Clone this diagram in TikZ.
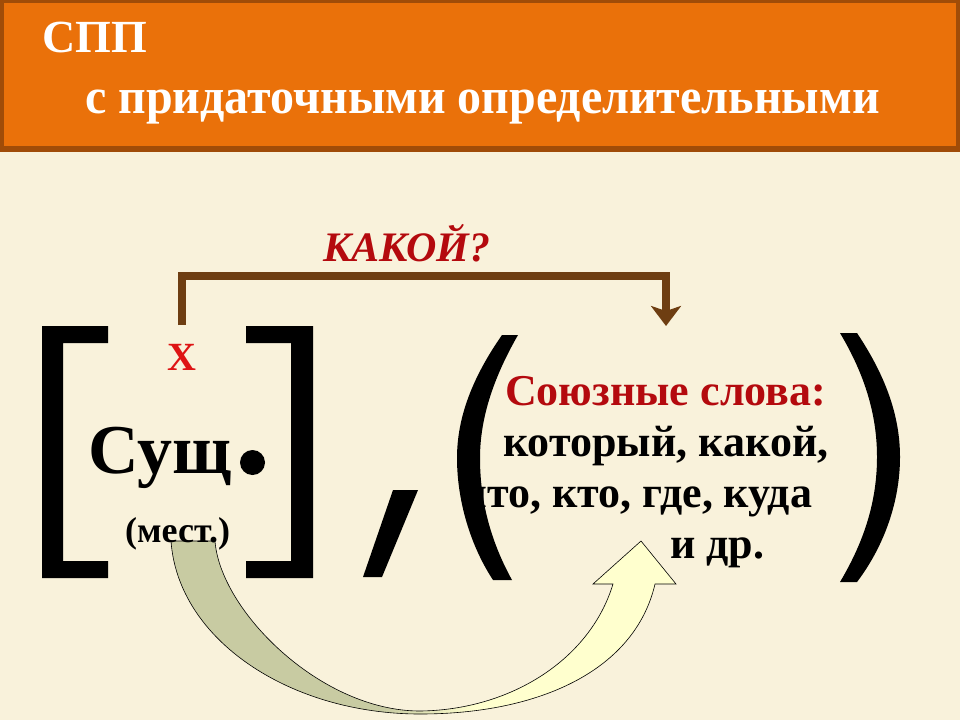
\documentclass[tikz,border=0pt]{standalone}
\usepackage{fontspec}
\setmainfont{Liberation Serif}
\usetikzlibrary{arrows.meta}
\definecolor{bgbeige}{RGB}{249,242,219}
\definecolor{hdorange}{RGB}{234,113,10}
\definecolor{hdbrown}{RGB}{160,76,8}
\definecolor{brarrow}{RGB}{110,62,18}
\definecolor{darkred}{RGB}{180,10,14}
\definecolor{brightred}{RGB}{222,20,20}
\definecolor{arrgreen}{RGB}{200,203,162}
\definecolor{arryellow}{RGB}{255,255,206}
\pgfdeclarehorizontalshading{curvshade}{100bp}{color(0bp)=(arrgreen); color(46bp)=(arrgreen); color(55bp)=(arryellow); color(100bp)=(arryellow)}
\tikzset{
  hdtext/.style={text=white, inner sep=0pt, font=\bfseries},
  bodytext/.style={inner sep=0pt, anchor=base west, font=\bfseries\fontsize{44}{48}\selectfont},
  glyph/.style={fill=black, draw=none},
  brackline/.style={draw=brarrow, line width=8pt, line join=miter,
     -{Stealth[width=30pt,length=20pt,inset=5pt]}},
}
\begin{document}
\begin{tikzpicture}[x=1pt,y=-1pt]
\useasboundingbox (0,0) rectangle (960,720);
\fill[bgbeige] (0,0) rectangle (960,720);
% header
\fill[hdbrown] (0,0) rectangle (960,152);
\fill[hdorange] (4,3) rectangle (956,146);
\node[hdtext, anchor=base west, font=\bfseries\fontsize{46}{50}\selectfont] (spp) at (42,52) {СПП};
\node[hdtext, anchor=base west, font=\bfseries\fontsize{50}{54}\selectfont] (sub) at (85,113) {\scalebox{0.96}[1]{с придаточными определительными}};
% curved arrow
\path[shading=curvshade, draw=black, line width=0.6pt]
  (171,541) .. controls (178,640) and (290,714) .. (420,714)
  .. controls (540,714) and (635,670) .. (655,584)
  -- (676,584) -- (641,541) -- (593,584) -- (613,584)
  .. controls (590,660) and (510,710) .. (420,711)
  .. controls (320,711) and (220,610) .. (215,541) -- cycle;
% square brackets
\fill[glyph] (42,326) -- (108,326) -- (108,343) -- (63,343) -- (63,561) -- (108,561) -- (108,578) -- (42,578) -- cycle;
\fill[glyph] (246,326) -- (313,326) -- (313,578) -- (246,578) -- (246,561) -- (291,561) -- (291,343) -- (246,343) -- cycle;
% comma
\fill[glyph] (393,490) -- (418,490) -- (382,577) -- (363,577) -- cycle;
% main clause
\node[inner sep=0pt, anchor=base, text=brightred, font=\bfseries\fontsize{40}{44}\selectfont] (x) at (182,370) {Х};
\node[bodytext, font=\bfseries\fontsize{70}{74}\selectfont] (sush) at (88,473) {Сущ};
\fill (252.5,462.5) circle (12.5);
\node[bodytext, font=\bfseries\fontsize{36}{40}\selectfont] (mest) at (125,542) {(мест.)};
% subordinate text
\node[bodytext, text=darkred] (sw) at (505,405) {Союзные слова:};
\node[bodytext] (l1) at (503,456) {который, какой,};
\node[bodytext] (l2) at (462,507) {что, кто, где, куда};
\node[bodytext] (l3) at (670,558) {и др.};
% parentheses
\fill[glyph] (502,335) .. controls (472,378) and (457,418) .. (457,458)
  .. controls (457,500) and (470,545) .. (493,580) -- (512,580)
  .. controls (490,540) and (480,500) .. (480,458)
  .. controls (480,416) and (495,375) .. (518,335) -- cycle;
\fill[glyph] (857,333) .. controls (885,375) and (900,415) .. (900,457)
  .. controls (900,500) and (885,545) .. (857,582) -- (840,582)
  .. controls (865,540) and (877,500) .. (877,457)
  .. controls (877,415) and (865,375) .. (840,333) -- cycle;
% question connector
\node[inner sep=0pt, anchor=base west, text=darkred, font=\bfseries\itshape\fontsize{42}{46}\selectfont] (q) at (323,261) {КАКОЙ?};
\coordinate (qfrom) at (182,325);
\coordinate (qtop) at (424,276);
\coordinate (qto) at (666,326);
\draw[brackline] (qfrom) |- (qtop) -| (qto);
\end{tikzpicture}
\end{document}
